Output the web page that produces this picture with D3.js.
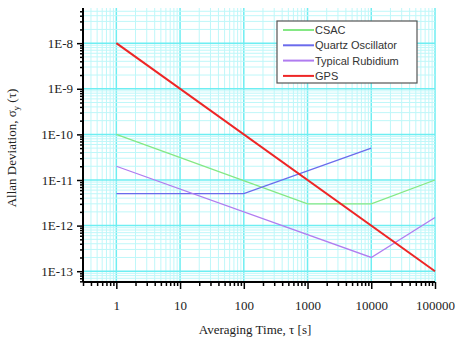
<!DOCTYPE html>
<html>
<head>
<meta charset="utf-8">
<script src="https://cdn.jsdelivr.net/npm/d3@7"></script>
<style>
  body { margin: 0; background: #fff; }
</style>
</head>
<body>
<div id="chart"></div>
<script>
"use strict";

// series values
const gpsTau = [1, 100000];
const gpsDev = [1e-8, 1e-13];
const csacTau = [1, 1000, 10000, 100000];
const csacDev = [1e-10, 3e-12, 3e-12, 1e-11];
const quartzTau = [1, 100, 10000];
const quartzDev = [5e-12, 5e-12, 5e-11];
const rubidiumTau = [1, 10000, 100000];
const rubidiumDev = [2e-11, 2e-13, 1.5e-12];

const xTicks = [1, 10, 100, 1000, 10000, 100000];
const xTickLabels = ["1", "10", "100", "1000", "10000", "100000"];
const yTicks = [1e-8, 1e-9, 1e-10, 1e-11, 1e-12, 1e-13];
const yTickLabels = ["1E-8", "1E-9", "1E-10", "1E-11", "1E-12", "1E-13"];

const seriesNames = ["CSAC", "Quartz Oscillator", "Typical Rubidium", "GPS"];
const seriesColors = ["#84e884", "#6b6bec", "#b07cf0", "#ee2626"];

const series = [
    { name: seriesNames[0], color: seriesColors[0], pts: csacTau.map((t, i) => [t, csacDev[i]]) },
    { name: seriesNames[1], color: seriesColors[1], pts: quartzTau.map((t, i) => [t, quartzDev[i]]) },
    { name: seriesNames[2], color: seriesColors[2], pts: rubidiumTau.map((t, i) => [t, rubidiumDev[i]]) },
    { name: seriesNames[3], color: seriesColors[3], pts: gpsTau.map((t, i) => [t, gpsDev[i]]) }
];

const svgWidth = 474, svgHeight = 350;
const margin = { top: 8, right: 39, bottom: 68, left: 83 };
const width = svgWidth - margin.left - margin.right;
const height = svgHeight - margin.top - margin.bottom;

const svg = d3.select("#chart").append("svg")
    .attr("width", svgWidth)
    .attr("height", svgHeight);

const g = svg.append("g")
    .attr("transform", `translate(${margin.left},${margin.top})`);

const x = d3.scaleLog().domain([0.3, 100000]).range([0, width]);
const y = d3.scaleLog().domain([5.8e-14, 5.9e-8]).range([height, 0]);

const isMajorY = d => yTicks.some(t => Math.abs(t - d) / t < 1e-6);

// minor + major tick values
const xMinor = [];
for (let e = -1; e <= 4; e++) for (let k = 1; k <= 9; k++) {
    const v = k * Math.pow(10, e);
    if (v >= 0.3 && v <= 100000) xMinor.push(v);
}
xMinor.push(100000);
const yMinor = [];
for (let e = -14; e <= -8; e++) for (let k = 1; k <= 9; k++) {
    const v = k * Math.pow(10, e);
    if (v >= 5.8e-14 && v <= 5.9e-8) yMinor.push(v);
}

// grid
const grid = g.append("g").attr("class", "grid");
grid.selectAll(".gx").data(xMinor).enter().append("line")
    .attr("x1", d => x(d)).attr("x2", d => x(d))
    .attr("y1", 0).attr("y2", height)
    .attr("stroke", d => xTicks.includes(d) ? "#6eeef2" : "#bff7f9")
    .attr("stroke-width", d => xTicks.includes(d) ? 1.5 : 1);
grid.selectAll(".gy").data(yMinor).enter().append("line")
    .attr("y1", d => y(d)).attr("y2", d => y(d))
    .attr("x1", 0).attr("x2", width)
    .attr("stroke", d => isMajorY(d) ? "#6eeef2" : "#bff7f9")
    .attr("stroke-width", d => isMajorY(d) ? 1.5 : 1);

// axes
const xAxis = g.append("g").attr("transform", `translate(0,${height})`);
xAxis.call(d3.axisBottom(x).tickValues(xMinor).tickSize(4)
    .tickFormat(d => { const i = xTicks.indexOf(d); return i >= 0 ? xTickLabels[i] : ""; }));
xAxis.selectAll(".tick line").filter(d => xTicks.includes(d)).attr("y2", 7);
xAxis.select(".domain").attr("stroke-width", 2).attr("d", `M0,0H${width}`);
xAxis.selectAll(".tick line").attr("stroke-width", 1.5);
xAxis.selectAll("text").attr("font-family", "Liberation Serif, Times New Roman, serif")
    .attr("font-size", 13).attr("fill", "#222").attr("dy", "1.6em");

const yAxis = g.append("g");
yAxis.call(d3.axisLeft(y).tickValues(yMinor).tickSize(3)
    .tickFormat(d => { const i = yTicks.findIndex(t => Math.abs(t - d) / t < 1e-6); return i >= 0 ? yTickLabels[i] : ""; }));
yAxis.selectAll(".tick line").filter(d => isMajorY(d)).attr("x2", -6);
yAxis.select(".domain").attr("stroke-width", 2).attr("d", `M0,${height}V0`);
yAxis.selectAll(".tick line").attr("stroke-width", 1.5);
yAxis.selectAll("text").attr("font-family", "Liberation Serif, Times New Roman, serif")
    .attr("font-size", 13).attr("fill", "#222").attr("x", -10);

// lines
const line = d3.line().x(d => x(d[0])).y(d => y(d[1]));
g.selectAll(".series").data(series).enter().append("path")
    .attr("fill", "none")
    .attr("stroke", d => d.color)
    .attr("stroke-width", d => d.name === "GPS" ? 2 : 1.3)
    .attr("d", d => line(d.pts));

// legend
const legend = svg.append("g").attr("transform", "translate(277,21)");
legend.append("rect").attr("width", 140).attr("height", 62)
    .attr("fill", "#fff").attr("stroke", "#555").attr("stroke-width", 1.2);
series.forEach((s, i) => {
    const ly = 9 + i * 15.3;
    legend.append("line").attr("x1", 6).attr("x2", 37).attr("y1", ly).attr("y2", ly)
        .attr("stroke", s.color).attr("stroke-width", 2);
    legend.append("text").attr("x", 38).attr("y", ly + 4)
        .attr("font-family", "Liberation Sans, Arial, sans-serif").attr("font-size", 11)
        .attr("fill", "#333").text(s.name);
});

// axis titles
svg.append("text")
    .attr("x", margin.left + width / 2 - 4).attr("y", 334)
    .attr("text-anchor", "middle")
    .attr("font-family", "Liberation Serif, Times New Roman, serif")
    .attr("font-size", 13).attr("fill", "#222")
    .text("Averaging Time, τ [s]");

const yt = svg.append("text")
    .attr("transform", "translate(16,148) rotate(-90)")
    .attr("text-anchor", "middle")
    .attr("font-family", "Liberation Serif, Times New Roman, serif")
    .attr("font-size", 13).attr("fill", "#222");
yt.append("tspan").text("Allan Deviation, σ");
yt.append("tspan").attr("font-size", 9).attr("dy", 3).text("y");
yt.append("tspan").attr("dy", -3).text(" (τ)");
</script>
</body>
</html>
